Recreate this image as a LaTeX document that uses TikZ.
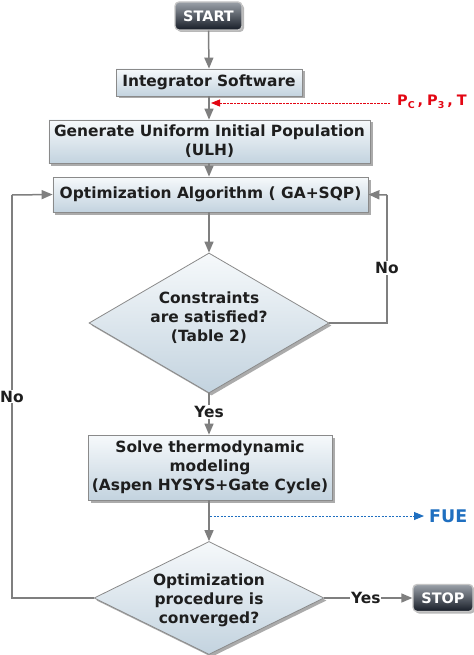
\documentclass[tikz,border=0pt]{standalone}
\usepackage{fontspec}
\setmainfont{DejaVu Sans}
\usetikzlibrary{shapes.geometric,arrows.meta,shadows}
\definecolor{edge}{HTML}{7F7F7F}
\definecolor{boxborder}{HTML}{8A8A8A}
\definecolor{boxtop}{HTML}{F6F9FB}
\definecolor{boxbot}{HTML}{C3D3DF}
\definecolor{textdark}{HTML}{1E1E1E}
\definecolor{redlab}{HTML}{E30613}
\definecolor{bluelab}{HTML}{1F6FC0}
\definecolor{btntop}{HTML}{9AA0A8}
\definecolor{btnmid}{HTML}{3A4350}
\definecolor{btnbot}{HTML}{161C26}
\newcommand{\mysub}[1]{\raisebox{-0.4ex}{\fontsize{9.5}{9.5}\selectfont #1}}
\begin{document}
\begin{tikzpicture}[x=1bp,y=-1bp,
  font=\bfseries\fontsize{15.5}{19}\selectfont,
  box/.style={rectangle, draw=boxborder, line width=0.8bp, top color=boxtop, bottom color=boxbot,
    drop shadow={shadow xshift=2.5bp, shadow yshift=-2.5bp, fill=black!65},
    text=textdark, align=center, inner sep=0pt},
  dia/.style={diamond, draw=boxborder, line width=0.8bp, top color=boxtop, bottom color=boxbot,
    drop shadow={shadow xshift=2.5bp, shadow yshift=-2.5bp, fill=black!65},
    text=textdark, align=center, inner sep=0pt},
  btn/.style={rectangle, rounded corners=4bp, draw=gray!45, line width=1.3bp,
    top color=btntop, middle color=btnmid, bottom color=btnbot, text=white,
    drop shadow={shadow xshift=2bp, shadow yshift=-2bp, fill=black!55},
    inner sep=0pt, font=\bfseries\fontsize{14.5}{16}\selectfont},
  arr/.style={draw=edge, line width=1.5bp, -{Triangle[length=11bp,width=9bp]}},
  ln/.style={draw=edge, line width=1.5bp},
  lab/.style={fill=white, text=textdark, inner sep=1bp},
  dashline/.style={line width=0.9bp, dash pattern=on 2.2bp off 1.3bp}
]
\useasboundingbox (0,0) rectangle (474,655);
\fill[white] (0,0) rectangle (474,655);

\node[btn, minimum width=67bp, minimum height=28bp] (start) at (208.5,16) {START};
\node[box, minimum width=186bp, minimum height=27bp] (integ) at (209,82.5) {Integrator Software};
\node[box, minimum width=321bp, minimum height=43bp] (gen) at (209.5,141.5) {Generate Uniform Initial Population\\(ULH)};
\node[box, minimum width=315bp, minimum height=35bp] (opt) at (210.5,194.5) {Optimization Algorithm ( GA+SQP)};
\node[dia, minimum width=240bp, minimum height=140bp] (d1) at (209,323) {};
\node[text=textdark, align=center] (d1t) at (209,318) {Constraints\\are satisfied?\\(Table 2)};
\node[box, minimum width=244bp, minimum height=65bp] (solve) at (210,467.5) {Solve thermodynamic\\modeling\\(Aspen HYSYS+Gate Cycle)};
\node[dia, minimum width=230bp, minimum height=113bp] (d2) at (209,598) {};
\node[text=textdark, align=center] (d2t) at (209,600) {Optimization\\procedure is\\converged?};
\node[btn, minimum width=60bp, minimum height=27bp] (stop) at (443,598) {STOP};

\coordinate (pin) at (390,103);
\coordinate (pinend) at (211,103);
\coordinate (fuestart) at (210,516);
\coordinate (fueend) at (424,516);
\coordinate (rtop) at (387,195);
\coordinate (rbot) at (387,323);
\coordinate (ltop) at (12,195);
\coordinate (lbot) at (12,598);

\draw[arr] (start.south) -- (integ.north);
\draw[arr] (integ.south) -- (integ.south |- gen.north);
\draw[arr] (gen.south -| integ.south) -- (integ.south |- opt.north);
\draw[arr] (integ.south |- opt.south) -- (d1.north);
\draw[arr] (d1.south) -- node[lab, pos=0.45] {Yes} (d1.south |- solve.north);
\draw[arr] (d1.south |- solve.south) -- (d2.north);
\draw[ln] (d1.east) -- (rbot) -- node[lab, pos=0.43] {No} (rtop);
\draw[arr] (rtop) -- (opt.east);
\draw[ln] (d2.west) -- (lbot) -- node[lab, pos=0.5] {No} (ltop);
\draw[arr] (ltop) -- (opt.west);
\draw[arr] (d2.east) -- node[lab, pos=0.47] {Yes} (stop.west);

\draw[dashline, draw=redlab, -{Triangle[length=9bp,width=7bp]}, redlab] (pin) -- (pinend);
\node[anchor=west, text=redlab, inner sep=0pt, font=\bfseries\fontsize{14.5}{16}\selectfont] (plab) at (397,102) {P\mysub{C}\kern3bp,\kern4bp P\mysub{3}\kern3bp,\kern4bp T};
\draw[dashline, draw=bluelab, -{Triangle[length=10bp,width=8bp]}, bluelab] (fuestart) -- (fueend);
\node[anchor=west, text=bluelab, inner sep=0pt, font=\bfseries\fontsize{17.5}{20}\selectfont] (fue) at (429,516) {FUE};
\end{tikzpicture}
\end{document}
